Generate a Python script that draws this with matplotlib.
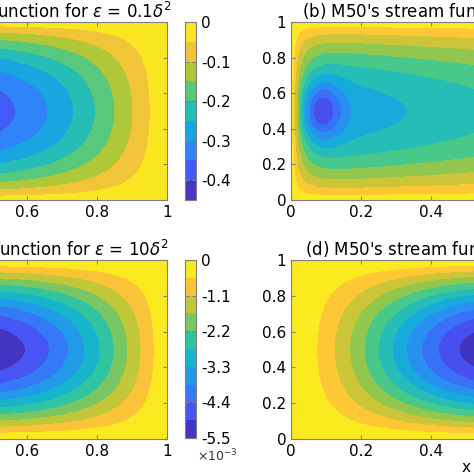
import numpy as np
import matplotlib
matplotlib.use("Agg")
import matplotlib.pyplot as plt
from matplotlib.colors import LinearSegmentedColormap

# ---- data / parameters ----
levels_a = [-0.45, -0.4, -0.35, -0.3, -0.25, -0.2, -0.15, -0.1, -0.05, 0.0]
cbar_ticks_a = [-0.4, -0.3, -0.2, -0.1, 0.0]
cbar_labels_a = ["-0.4", "-0.3", "-0.2", "-0.1", "0"]
levels_c = [-5.5e-3, -4.95e-3, -4.4e-3, -3.85e-3, -3.3e-3, -2.75e-3, -2.2e-3, -1.65e-3, -1.1e-3, -0.55e-3, 0.0]
cbar_ticks_c = [-5.5e-3, -4.4e-3, -3.3e-3, -2.2e-3, -1.1e-3, 0.0]
cbar_labels_c = ["-5.5", "-4.4", "-3.3", "-2.2", "-1.1", "0"]
levels_bd = [-0.55, -0.5, -0.45, -0.4, -0.35, -0.3, -0.25, -0.2, -0.15, -0.1, -0.05, 0.0]
amp_a, amp_b, amp_c, amp_d = 0.47, 0.6, 5.45e-3, 0.545
titles = ["(a) Analytical stream function for $\\epsilon$ = 0.1$\\delta^2$",
          "(b) M50's stream function for $\\epsilon$ = 0.1$\\delta^2$",
          "(c) Analytical stream function for $\\epsilon$ = 10$\\delta^2$",
          "(d) M50's stream function for $\\epsilon$ = 10$\\delta^2$"]

parula = [(0.2422, 0.1504, 0.6603), (0.2810, 0.3228, 0.9579), (0.1786, 0.5289, 0.9682),
          (0.0689, 0.6948, 0.8394), (0.2161, 0.7843, 0.5923), (0.6720, 0.7793, 0.2227),
          (0.9970, 0.7659, 0.2199), (0.9769, 0.9839, 0.0805)]
cmap = LinearSegmentedColormap.from_list("parula", parula)

x = np.linspace(0, 1, 401)
y = np.linspace(0, 1, 401)
X, Y = np.meshgrid(x, y)
S = np.sin(np.pi * Y)

psi_a = -amp_a * np.tanh((1 - X) / 0.45) * (1 - np.exp(-X / 0.05)) * S ** 0.75
core = (1 - np.exp(-X / 0.035)) * (0.6 - 0.3 * X) * S ** 0.75
spike = 0.32 * np.exp(-((X - 0.08) / 0.065) ** 2 - ((Y - 0.5) / 0.16) ** 2) * (1 - np.exp(-X / 0.03))
psi_b = -amp_b * (core + spike)
psi_c = -amp_c * np.sin(np.pi * X ** 0.868) * S ** 1.0
psi_d = -amp_d * np.sin(np.pi * X ** 1.357) * S ** 1.0
psi_a = np.maximum(psi_a, -0.4499)
psi_b = np.maximum(psi_b, -0.5499)
psi_c = np.maximum(psi_c, -5.499e-3)
psi_d = np.maximum(psi_d, -0.5499)

fig = plt.figure(figsize=(4.74, 4.74), dpi=100)
W = 474.0
def rect(l, t, w, h):
    return [l / W, (W - t - h) / W, w / W, h / W]

edge = "#7f7f7f"
def style(ax):
    ax.tick_params(direction="in", top=True, right=True, labelsize=11, color=edge, length=3)
    for s in ax.spines.values():
        s.set_color(edge)
    ax.set_xlim(0, 1); ax.set_ylim(0, 1)
    ax.set_xticks([0, 0.2, 0.4, 0.6, 0.8, 1]); ax.set_yticks([0, 0.2, 0.4, 0.6, 0.8, 1])
    ax.set_xticklabels(["0", "0.2", "0.4", "0.6", "0.8", "1"])
    ax.set_yticklabels(["0", "0.2", "0.4", "0.6", "0.8", "1"])

axa = fig.add_axes(rect(-183, 22, 350, 178))
axb = fig.add_axes(rect(291, 22, 350, 178))
axc = fig.add_axes(rect(-183, 260, 350, 179))
axd = fig.add_axes(rect(291, 260, 350, 179))

ca = axa.contourf(X, Y, psi_a, levels=levels_a, cmap=cmap)
axb.contourf(X, Y, psi_b, levels=levels_bd, cmap=cmap)
cc = axc.contourf(X, Y, psi_c, levels=levels_c, cmap=cmap)
axd.contourf(X, Y, psi_d, levels=levels_bd, cmap=cmap)

for ax, t in zip([axa, axb, axc, axd], titles):
    style(ax)
    ax.set_title(t, fontsize=12, pad=3)
axd.set_xlabel("x", fontsize=11, labelpad=1)
axc.set_xlabel("x", fontsize=11, labelpad=1)

def cbar(cs, t, ticks, labels, mult=False):
    cax = fig.add_axes(rect(185, t, 11, 178))
    cb = fig.colorbar(cs, cax=cax)
    cb.set_ticks(ticks); cb.set_ticklabels(labels)
    cax.tick_params(direction="in", labelsize=11, color=edge, length=3, left=True, right=True)
    cb.outline.set_edgecolor(edge)
    if mult:
        fig.text(197 / W, 1 - 456 / W, "$\\times10^{-3}$", fontsize=9, ha="left", va="center", color="#333333")
    return cb

cbar(ca, 22, cbar_ticks_a, cbar_labels_a)
cbar(cc, 260, cbar_ticks_c, cbar_labels_c, mult=True)

fig.savefig("out.png", dpi=100)
